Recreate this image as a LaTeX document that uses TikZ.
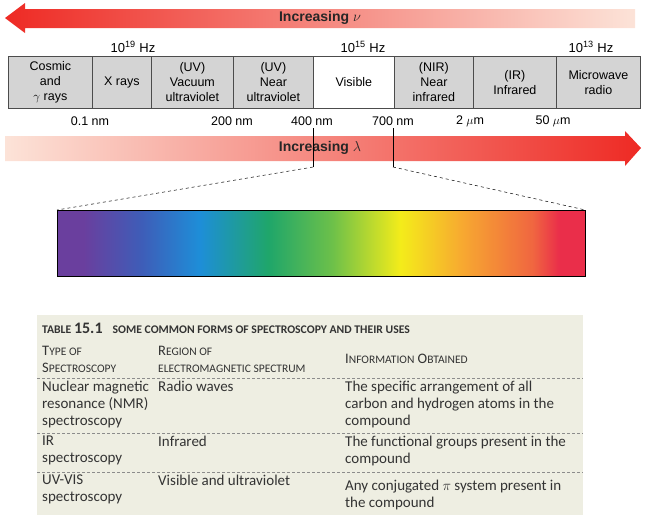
\documentclass[tikz,border=0pt]{standalone}
\usepackage{fontspec}
\setmainfont{Liberation Sans}
\newfontfamily\tabfont{Carlito}
\usetikzlibrary{shadings}
\definecolor{arrred}{HTML}{EE2A24}
\definecolor{arrpale}{HTML}{FCE3D8}
\definecolor{boxgray}{HTML}{D4D4D4}
\definecolor{tabbg}{HTML}{EEEEE2}
\definecolor{tabtxt}{HTML}{333333}
\definecolor{sa}{HTML}{6A3F9E}
\definecolor{sb}{HTML}{3E5DB8}
\definecolor{sc}{HTML}{1E8ED8}
\definecolor{sd}{HTML}{1FA66A}
\definecolor{se}{HTML}{6CC04A}
\definecolor{sf}{HTML}{F4EC1A}
\definecolor{sg}{HTML}{F7A731}
\definecolor{sh}{HTML}{F06640}
\definecolor{si}{HTML}{EA2E4A}
\pgfdeclarehorizontalshading{spec}{100bp}{color(0bp)=(sa);color(27.5bp)=(sa);color(33bp)=(sb);color(38.5bp)=(sc);color(45bp)=(sd);color(51bp)=(se);color(57.5bp)=(sf);color(63.5bp)=(sg);color(70bp)=(sh);color(72.5bp)=(si);color(100bp)=(si)}
\newcommand{\fsc}[2]{{\fontsize{14.5}{17}\selectfont #1}{\fontsize{11.5}{17}\selectfont #2}}
\begin{document}
\begin{tikzpicture}[x=1pt,y=-1pt,
  band/.style={draw=black!70,line width=0.8pt,fill=boxgray,align=center,font=\fontsize{12.5}{15}\selectfont,inner sep=0pt},
  lab/.style={font=\fontsize{12.5}{15}\selectfont,inner sep=0pt},
  hz/.style={font=\fontsize{13}{15}\selectfont,inner sep=0pt},
  arrlab/.style={font=\bfseries\fontsize{14}{16}\selectfont,text=black!85,inner sep=0pt},
  tt/.style={font=\tabfont\fontsize{15}{17}\selectfont,text=tabtxt,anchor=north west,align=left,inner sep=0pt},
  th/.style={font=\tabfont\fontsize{14.5}{17}\selectfont,text=tabtxt,anchor=west,align=left,inner sep=0pt},
  sep/.style={densely dashed,draw=black!45,line width=0.5pt}]
\useasboundingbox (0,0) rectangle (646,531);
% top arrow
\shade[left color=arrred,right color=arrpale,shading angle=90] (5,18)--(25,3)--(25,9)--(635,9)--(635,28)--(25,28)--(25,33)--cycle;
\node[arrlab] (nu) at (320,18) {Increasing $\nu$};
% Hz labels
\node[hz] (h19) at (133,47) {10\textsuperscript{19} Hz};
\node[hz] (h15) at (363,47) {10\textsuperscript{15} Hz};
\node[hz] (h13) at (591,47) {10\textsuperscript{13} Hz};
% bands
\node[band,minimum width=84pt,minimum height=52pt,anchor=north west] (b1) at (8,56) {Cosmic\\and\\$\gamma$ rays};
\node[band,minimum width=59pt,minimum height=52pt,anchor=north west] (b2) at (92,56) {X rays};
\node[band,minimum width=82pt,minimum height=52pt,anchor=north west] (b3) at (151,56) {(UV)\\Vacuum\\ultraviolet};
\node[band,minimum width=80pt,minimum height=52pt,anchor=north west] (b4) at (233,56) {(UV)\\Near\\ultraviolet};
\node[band,fill=white,minimum width=81pt,minimum height=52pt,anchor=north west] (b5) at (313,56) {Visible};
\node[band,minimum width=79pt,minimum height=52pt,anchor=north west] (b6) at (394,56) {(NIR)\\Near\\infrared};
\node[band,minimum width=83pt,minimum height=52pt,anchor=north west] (b7) at (473,56) {(IR)\\Infrared};
\node[band,minimum width=84pt,minimum height=52pt,anchor=north west] (b8) at (556,56) {Microwave\\radio};
% wavelengths
\node[lab] (w1) at (90,121) {0.1 nm};
\node[lab] (w2) at (232,121) {200 nm};
\node[lab] (w3) at (312,121) {400 nm};
\node[lab] (w4) at (393,121) {700 nm};
\node[lab] (w5) at (470,121) {2 $\mu$m};
\node[lab] (w6) at (553,121) {50 $\mu$m};
% bottom arrow
\shade[left color=arrpale,right color=arrred,shading angle=90] (5,136)--(625,136)--(625,131)--(641,148)--(625,166)--(625,161)--(5,161)--cycle;
\node[arrlab] (lam) at (320,148) {Increasing $\lambda$};
% spectrum
\coordinate (c1) at (313,128); \coordinate (c2) at (313,167);
\coordinate (c3) at (393,128); \coordinate (c4) at (393,167);
\node[minimum width=528pt,minimum height=66pt,anchor=north west,inner sep=0pt] (sp) at (57,210) {};
\shade[shading=spec] (sp.north west) rectangle (sp.south east);
\draw[line width=0.6pt] (sp.north west) rectangle (sp.south east);
\draw[line width=0.6pt] (c1)--(c2) (c3)--(c4);
\draw[dashed,line width=0.5pt] (c2)--(sp.north west) (c4)--(sp.north east);
% table
\fill[tabbg] (37,315) rectangle (583,515);
\node[anchor=west,inner sep=0pt,text=tabtxt] (tt) at (42,328) {\tabfont\bfseries\fontsize{11.7}{13}\selectfont TABLE \fontsize{16}{17}\selectfont 15.1\hspace{10pt}\fontsize{11.7}{13}\selectfont SOME COMMON FORMS OF SPECTROSCOPY AND THEIR USES};
\node[th] (hd1) at (42,359) {\fsc{T}{YPE OF}\\\fsc{S}{PECTROSCOPY}};
\node[th] (hd2) at (158,359) {\fsc{R}{EGION OF}\\{\fontsize{11.5}{17}\selectfont ELECTROMAGNETIC SPECTRUM}};
\node[th] (hd3) at (345,359) {\fsc{I}{NFORMATION} \fsc{O}{BTAINED}};
\draw[sep] (37,378)--(583,378);
\draw[sep] (37,433)--(583,433);
\draw[sep] (37,472)--(583,472);
\node[tt] (r11) at (42,381) {Nuclear magnetic\\resonance (NMR)\\spectroscopy};
\node[tt] (r12) at (158,381) {Radio waves};
\node[tt] (r13) at (345,381) {The specific arrangement of all\\carbon and hydrogen atoms in the\\compound};
\node[tt] (r21) at (42,436) {IR\\spectroscopy};
\node[tt] (r22) at (158,436) {Infrared};
\node[tt] (r23) at (345,436) {The functional groups present in the\\compound};
\node[tt] (r31) at (42,475) {UV-VIS\\spectroscopy};
\node[tt] (r32) at (158,475) {Visible and ultraviolet};
\node[tt] (r33) at (345,480) {Any conjugated $\pi$ system present in\\the compound};
\end{tikzpicture}
\end{document}
